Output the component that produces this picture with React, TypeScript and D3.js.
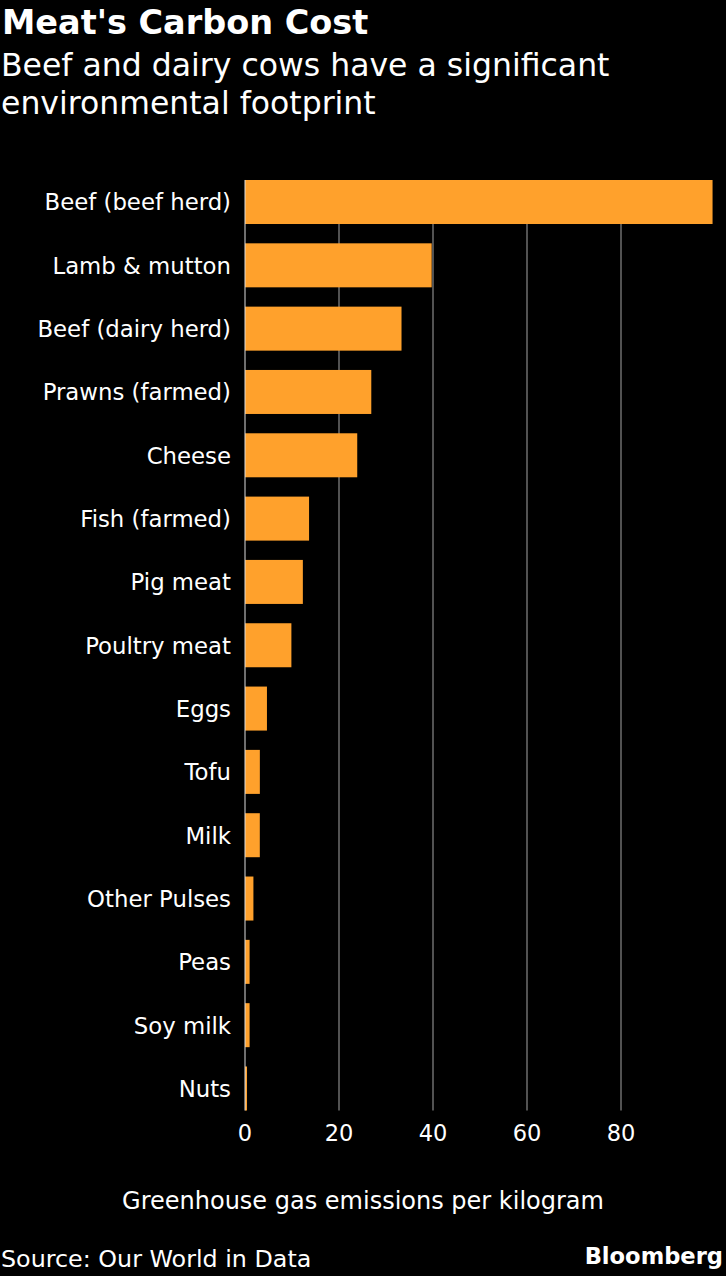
import * as d3 from "d3";
import React from "react";

const width = 726;
const height = 1276;

const categories = [
  "Beef (beef herd)",
  "Lamb & mutton",
  "Beef (dairy herd)",
  "Prawns (farmed)",
  "Cheese",
  "Fish (farmed)",
  "Pig meat",
  "Poultry meat",
  "Eggs",
  "Tofu",
  "Milk",
  "Other Pulses",
  "Peas",
  "Soy milk",
  "Nuts",
];
const emissions = [99.48, 39.72, 33.3, 26.87, 23.88, 13.63, 12.31, 9.87, 4.67, 3.16, 3.15, 1.79, 0.98, 0.98, 0.43];
const tickValues = [0, 20, 40, 60, 80];

const font = "'DejaVu Sans', Verdana, sans-serif";
const orange = "#ffa12c";

export default function App() {
  const x = d3.scaleLinear().domain([0, 100]).range([245, 715]);
  const y = d3
    .scaleBand<string>()
    .domain(categories)
    .range([170.5, 1120])
    .paddingInner(0.305)
    .paddingOuter(0.15);

  const gridTop = y(categories[0])!;
  const gridBottom = y(categories[categories.length - 1])! + y.bandwidth();

  return (
    <svg
      width={width}
      height={height}
      style={{ position: "absolute", left: 0, top: 0, fontFamily: font }}
    >
      <rect width={width} height={height} fill="#000" />

      {/* titles */}
      <text x={2} y={34} fill="#fff" fontSize={33.5} fontWeight="bold">
        Meat's Carbon Cost
      </text>
      <text x={1} y={76} fill="#fff" fontSize={31.5}>
        Beef and dairy cows have a significant
      </text>
      <text x={1} y={114} fill="#fff" fontSize={31.5}>
        environmental footprint
      </text>

      {/* grid */}
      <g>
        {tickValues.slice(1).map((t) => (
          <line
            key={t}
            x1={x(t)}
            x2={x(t)}
            y1={gridTop}
            y2={gridBottom}
            stroke="#6e6e6e"
            strokeWidth={1.5}
          />
        ))}
      </g>

      {/* bars */}
      <g>
        {categories.map((c, i) => (
          <rect
            key={c}
            x={x(0)}
            y={y(c)}
            width={x(emissions[i]) - x(0)}
            height={y.bandwidth()}
            fill={orange}
          />
        ))}
      </g>

      <line x1={x(0)} x2={x(0)} y1={gridTop} y2={gridBottom} stroke="#ddd" strokeWidth={1} />

      {/* category labels */}
      <g>
        {categories.map((c) => (
          <text
            key={c}
            x={231}
            y={y(c)! + y.bandwidth() / 2}
            dy="0.37em"
            textAnchor="end"
            fill="#fff"
            fontSize={22.8}
          >
            {c}
          </text>
        ))}
      </g>

      {/* x ticks */}
      <g>
        {tickValues.map((t) => (
          <text key={t} x={x(t)} y={1141} textAnchor="middle" fill="#fff" fontSize={22.5}>
            {t}
          </text>
        ))}
      </g>

      <text x={363} y={1209} textAnchor="middle" fill="#fff" fontSize={24}>
        Greenhouse gas emissions per kilogram
      </text>

      <text x={1} y={1267} fill="#fff" fontSize={23.8}>
        Source: Our World in Data
      </text>
      <text x={723} y={1264} textAnchor="end" fill="#fff" fontSize={22.6} fontWeight="bold">
        Bloomberg
      </text>
    </svg>
  );
}
